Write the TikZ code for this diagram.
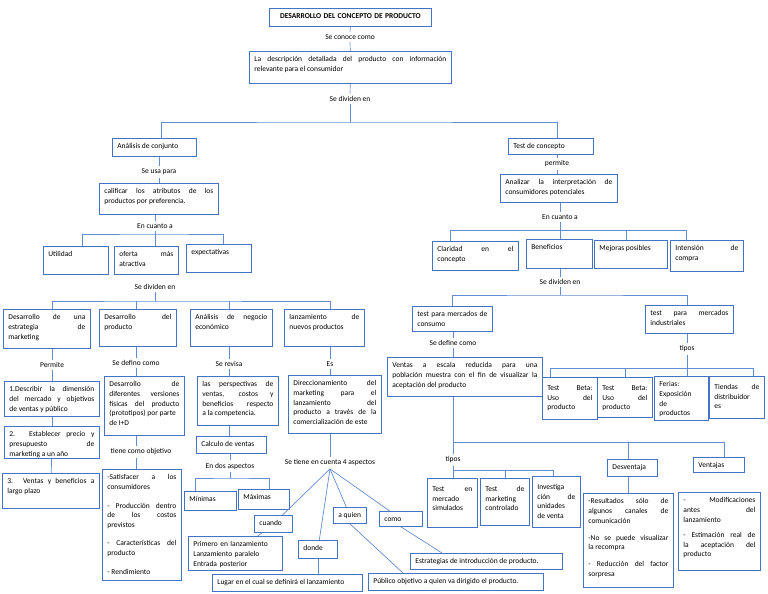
\documentclass[tikz,border=0pt]{standalone}
\usepackage{fontspec}
\setmainfont{Carlito}
\definecolor{boxBlue}{RGB}{68,114,196}
\definecolor{lineBlue}{RGB}{100,140,210}
\hyphenpenalty=10000
\exhyphenpenalty=10000
\tolerance=10000
\begin{document}
\begin{tikzpicture}[%%
  x=1pt,y=-1pt,%%
  boxDecorate/.style={%%
    draw=boxBlue,line width=0.8pt,anchor=north west,align=justify,%%
    inner xsep=5pt,inner ysep=3pt,text height=7.5pt,%%
    font=\fontsize{7.5}{9.6}\selectfont%%
  },%%
  boxSize/.code 2 args={%%
    \pgfmathsetmacro{\boxW}{#1-10}%%
    \pgfmathsetmacro{\boxD}{#2-13.5}%%
    \pgfkeysalso{text width/.expanded=\boxW pt,text depth/.expanded=\boxD pt}%%
  },%%
  lowText/.style={text height=10pt},%%
  labelDecorate/.style={inner sep=2.5pt,font=\fontsize{7.5}{9.6}\selectfont},%%
  lineDecorate/.style={-,draw=lineBlue,line width=0.7pt}%%
]
\useasboundingbox (0,0) rectangle (768,594);
%%
%% Top of the map.
\node[boxDecorate,boxSize={162}{18},align=center,
  font=\fontsize{7.5}{9.6}\selectfont\bfseries] (titulo) at (269,8)
  {DESARROLLO DEL CONCEPTO DE PRODUCTO};
\node[labelDecorate] (conoce) at (350,37) {Se conoce como};
\node[boxDecorate,boxSize={202}{32}] (descr) at (249,51)
  {La descripción detallada del producto con información \linebreak relevante para el consumidor};
\node[labelDecorate] (sdivA) at (350,99) {Se dividen en};
\coordinate (busA) at (350,122);
\draw[lineDecorate] (titulo) -- (conoce);
\draw[lineDecorate] (conoce) -- (descr);
\draw[lineDecorate] (descr) -- (sdivA);
\draw[lineDecorate] (sdivA) -- (busA);
%%
%% Left branch.
\node[boxDecorate,boxSize={84}{18}] (analisis) at (112,138) {Análisis de conjunto};
\node[labelDecorate] (usa) at (159,172) {Se usa para};
\node[boxDecorate,boxSize={119}{31}] (calificar) at (99,183)
  {calificar los atributos de los \linebreak productos por preferencia.};
\node[labelDecorate] (cuantoA) at (155,226) {En cuanto a};
\coordinate (busB) at (155,234);
\node[boxDecorate,boxSize={65}{28}] (utilidad) at (43,246) {Utilidad};
\node[boxDecorate,boxSize={64}{28}] (oferta) at (114,246) {oferta más \linebreak atractiva};
\node[boxDecorate,boxSize={65}{28}] (expect) at (186,244) {expectativas};
\node[labelDecorate] (sdivB) at (155,287) {Se dividen en};
\coordinate (busC) at (155,301);
\draw[lineDecorate] (analisis.south -| usa) -- (usa);
\draw[lineDecorate] (usa) -- (usa |- calificar.north);
\draw[lineDecorate] (calificar.south -| cuantoA) -- (cuantoA);
\draw[lineDecorate] (cuantoA) -- (cuantoA |- oferta.north);
\draw[lineDecorate] ([xshift=6.5pt]utilidad.north) |- (busB) -| ([xshift=4.5pt]expect.north);
\draw[lineDecorate] (sdivB) -- (busC);
%%
%% The four steps.
\node[boxDecorate,boxSize={87}{39}] (estrategia) at (3,309)
  {Desarrollo de una \linebreak estrategia de \linebreak marketing};
\node[boxDecorate,boxSize={77}{37}] (desprod) at (99,309) {Desarrollo del \linebreak producto};
\node[boxDecorate,boxSize={82}{37}] (negocio) at (190,309) {Análisis de negocio \linebreak económico};
\node[boxDecorate,boxSize={80}{37}] (lanzam) at (284,309) {lanzamiento de \linebreak nuevos productos};
\node[labelDecorate] (permiteA) at (52,365) {Permite};
\node[labelDecorate] (defino) at (136,363) {Se defino como};
\node[labelDecorate] (revisa) at (229,364) {Se revisa};
\node[labelDecorate] (es) at (330,364) {Es};
\draw[lineDecorate] ([xshift=5.5pt]estrategia.north) |- (busC) -| ([xshift=6pt]lanzam.north);
\draw[lineDecorate] (desprod.north -| defino) -- (defino |- busC);
\draw[lineDecorate] (negocio.north -| revisa) -- (revisa |- busC);
\draw[lineDecorate] (estrategia.south -| permiteA) -- (permiteA);
\draw[lineDecorate] (desprod.south -| defino) -- (defino);
\draw[lineDecorate] (negocio.south -| revisa) -- (revisa);
\draw[lineDecorate] (lanzam.south -| es) -- (es);
%%
%% Marketing strategy.
\node[boxDecorate,boxSize={95}{35}] (describir) at (4,381)
  {1.Describir la dimensión \linebreak del mercado y objetivos \linebreak de ventas y público};
\node[boxDecorate,boxSize={95}{32}] (precio) at (4,426)
  {2. Establecer precio y \linebreak presupuesto de \linebreak marketing a un año};
\node[boxDecorate,boxSize={97}{35}] (ventasT) at (2,473)
  {3. Ventas y beneficios a \linebreak largo plazo};
\draw[lineDecorate] (permiteA) -- (permiteA |- describir.north);
\draw[lineDecorate] (describir) -- (precio);
\draw[lineDecorate] (precio) -- (ventasT);
%%
%% Product development.
\node[boxDecorate,boxSize={80}{59}] (versiones) at (104,376)
  {Desarrollo de \linebreak diferentes versiones \linebreak físicas del producto \linebreak (prototipos) por parte\\ de I+D};
\node[labelDecorate] (objetivo) at (141,452) {tiene como objetivo};
\node[boxDecorate,boxSize={79}{111}] (satisfacer) at (102,469)
  {-Satisfacer a los \linebreak consumidores\\[9pt]
   - Producción dentro \linebreak de los costos \linebreak previstos\\[9pt]
   - Características del \linebreak producto\\[9pt]
   - Rendimiento};
\draw[lineDecorate] (defino) -- (defino |- versiones.north);
\draw[lineDecorate] (versiones.south -| defino) -- (objetivo.north -| defino);
\draw[lineDecorate] (objetivo.south -| defino) -- (satisfacer.north -| defino);
%%
%% Business analysis.
\node[boxDecorate,boxSize={81}{49}] (perspectivas) at (197,376)
  {las perspectivas de \linebreak ventas, costos y \linebreak beneficios respecto \linebreak a la competencia.};
\node[boxDecorate,boxSize={70}{17}] (calculo) at (196,436) {Calculo de ventas};
\node[labelDecorate] (dos) at (230,466) {En dos aspectos};
\coordinate (busD) at (230,478);
\node[boxDecorate,boxSize={52}{19}] (minimas) at (184,491) {Mínimas};
\node[boxDecorate,boxSize={51}{20}] (maximas) at (238,489) {Máximas};
\draw[lineDecorate] (revisa) -- (revisa |- perspectivas.north);
\draw[lineDecorate] (perspectivas.south -| revisa) -- (revisa |- calculo.north);
\draw[lineDecorate] (calculo.south -| dos) -- (dos);
\draw[lineDecorate] (dos) -- (busD);
\draw[lineDecorate] ([xshift=-15pt]minimas.north) |- (busD) -| ([xshift=5.5pt]maximas.north);
%%
%% Launch.
\node[boxDecorate,boxSize={93}{58}] (direcc) at (288,375)
  {Direccionamiento del \linebreak marketing para el \linebreak lanzamiento del \linebreak producto a través de la \linebreak comercialización de este};
\node[labelDecorate] (cuatro) at (330,463) {Se tiene en cuenta 4 aspectos};
\node[boxDecorate,boxSize={38}{17}] (cuando) at (254,515) {cuando};
\node[boxDecorate,boxSize={39}{18}] (donde) at (298,540) {donde};
\node[boxDecorate,boxSize={33}{16}] (aquien) at (333,507) {a quien};
\node[boxDecorate,boxSize={43}{15}] (como) at (379,511) {como};
\node[boxDecorate,boxSize={94}{34},align=left] (primero) at (188,536)
  {Primero en lanzamiento\\ Lanzamiento paralelo\\ Entrada posterior};
\node[boxDecorate,boxSize={150}{17}] (lugar) at (212,574)
  {Lugar en el cual se definirá el lanzamiento};
\node[boxDecorate,boxSize={175}{17}] (publico) at (368,573)
  {Público objetivo a quien va dirigido el producto.};
\node[boxDecorate,boxSize={152}{16}] (estrategias) at (410,553)
  {Estrategias de introducción de producto.};
\draw[lineDecorate] (es) -- (es |- direcc.north);
\draw[lineDecorate] (direcc.south -| cuatro) -- (cuatro);
\foreach \aspecto in {cuando,donde,aquien,como} {
  \draw[lineDecorate] (cuatro.south) -- (\aspecto);
}
\draw[lineDecorate] (cuando) -- (primero);
\draw[lineDecorate] (donde.south) -- (donde.south |- lugar.north);
\draw[lineDecorate] (aquien.south) -- ([xshift=35pt]publico.north west);
\draw[lineDecorate] (como.south) -- ([xshift=32pt]estrategias.north west);
%%
%% Right branch.
\node[boxDecorate,boxSize={85}{16}] (testc) at (508,138) {Test de concepto};
\node[labelDecorate] (permiteB) at (557,164) {permite};
\node[boxDecorate,boxSize={117}{28}] (analizar) at (500,174)
  {Analizar la interpretación de \linebreak consumidores potenciales};
\node[labelDecorate] (cuantoB) at (560,217) {En cuanto a};
\coordinate (busE) at (560,230);
\node[boxDecorate,boxSize={86}{29}] (claridad) at (432,241) {Claridad en el \linebreak concepto};
\node[boxDecorate,boxSize={66}{29}] (beneficios) at (526,239) {Beneficios};
\node[boxDecorate,boxSize={73}{28}] (mejoras) at (594,240) {Mejoras posibles};
\node[boxDecorate,boxSize={73}{31}] (intension) at (670,240) {Intensión de \linebreak compra};
\node[labelDecorate] (sdivC) at (560,282) {Se dividen en};
\coordinate (busF) at (560,295);
\draw[lineDecorate] ([xshift=6.5pt]analisis.north) |- (busA) -| ([xshift=6.5pt]testc.north);
\draw[lineDecorate] (testc.south -| permiteB) -- (permiteB);
\draw[lineDecorate] (permiteB) -- (permiteB |- analizar.north);
\draw[lineDecorate] (analizar.south -| cuantoB) -- (cuantoB);
\draw[lineDecorate] (cuantoB) -- (cuantoB |- beneficios.north);
\draw[lineDecorate] ([xshift=-25pt]claridad.north) |- (busE);
\draw[lineDecorate] (busE) -| ([xshift=-5pt]mejoras.north);
\draw[lineDecorate] (busE) -| ([xshift=-21pt]intension.north);
\draw[lineDecorate] (beneficios.south -| sdivC) -- (sdivC);
\draw[lineDecorate] (sdivC) -- (busF);
%%
%% Test markets.
\node[boxDecorate,boxSize={80}{25}] (consumo) at (412,306)
  {test para mercados de \linebreak consumo};
\node[boxDecorate,boxSize={88}{28}] (industr) at (645,305)
  {test para mercados \linebreak industriales};
\node[labelDecorate] (definecomo) at (453,343) {Se define como};
\node[labelDecorate] (tiposA) at (687,349) {tipos};
\coordinate (busG) at (687,368);
\node[boxDecorate,boxSize={155}{39}] (ventasesc) at (387,357)
  {Ventas a escala reducida para una \linebreak población muestra con el fin de visualizar la \linebreak aceptación del producto};
\node[boxDecorate,lowText,boxSize={55}{39.5}] (betaA) at (542,377) {Test Beta: \linebreak Uso del \linebreak producto};
\node[boxDecorate,lowText,boxSize={55}{37.5}] (betaB) at (597,377) {Test Beta: \linebreak Uso del \linebreak producto};
\node[boxDecorate,boxSize={54}{44},align=left] (ferias) at (654,376) {Ferias:\\ Exposición\\ de\\ productos};
\node[boxDecorate,lowText,boxSize={55}{39.5}] (tiendas) at (709,376) {Tiendas de \linebreak distribuidor\\ es};
\draw[lineDecorate] (consumo.north) |- (busF) -| ([xshift=-2pt]industr.north);
\draw[lineDecorate] (consumo.south -| definecomo) -- (definecomo);
\draw[lineDecorate] (definecomo) -- (definecomo |- ventasesc.north);
\draw[lineDecorate] (industr.south -| tiposA) -- (tiposA);
\draw[lineDecorate] (tiposA) -- (tiposA |- ferias.north);
\draw[lineDecorate] ([xshift=-19.5pt]betaA.north) |- (busG);
\draw[lineDecorate] (betaB.north) |- (busG);
\draw[lineDecorate] (busG) -| ([xshift=16.5pt]tiendas.north);
%%
%% Types, pros and cons.
\node[labelDecorate] (tiposB) at (453,460) {tipos};
\coordinate (busH) at (453,442);
\coordinate (busI) at (453,470);
\node[boxDecorate,lowText,boxSize={50}{46.5}] (simulados) at (427,478) {Test en \linebreak mercado\\ simulados};
\node[boxDecorate,lowText,boxSize={49}{44.5}] (controlado) at (480,478) {Test de \linebreak marketing\\ controlado};
\node[boxDecorate,lowText,boxSize={48}{48.5}] (investig) at (532,476) {Investiga\\ ción de \linebreak unidades\\ de venta};
\node[boxDecorate,boxSize={50}{17}] (desventaja) at (607,459) {Desventaja};
\node[boxDecorate,boxSize={51}{15}] (ventajas) at (693,457) {Ventajas};
\node[boxDecorate,boxSize={90}{94}] (desvdet) at (583,493)
  {-Resultados sólo de \linebreak algunos canales de \linebreak comunicación\\[7.5pt]
   -No se puede visualizar \linebreak la recompra\\[7.5pt]
   - Reducción del factor \linebreak sorpresa};
\node[boxDecorate,boxSize={82}{78}] (ventdet) at (678,492)
  {- Modificaciones \linebreak antes del \linebreak lanzamiento\\[6pt]
   - Estimación real de \linebreak la aceptación del \linebreak producto};
\draw[lineDecorate] (ventasesc.south -| tiposB) -- (tiposB);
\draw[lineDecorate] (busH) -| ([xshift=-4pt]desventaja.north);
\draw[lineDecorate] (busH) -| ([xshift=5.5pt]ventajas.north);
\draw[lineDecorate] (tiposB) -- (tiposB |- simulados.north);
\draw[lineDecorate] (busI) -| (controlado.north);
\draw[lineDecorate] (busI) -| ([xshift=-3pt]investig.north);
\draw[lineDecorate] ([xshift=-4pt]desventaja.south) -- (desvdet.north);
\end{tikzpicture}
\end{document}
